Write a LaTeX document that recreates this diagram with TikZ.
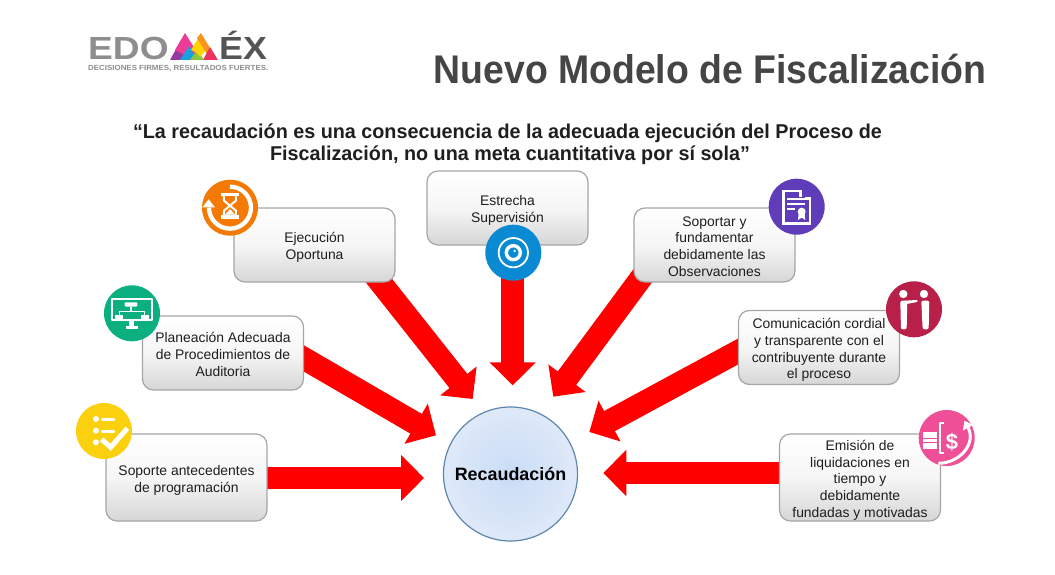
\documentclass[tikz,border=0pt]{standalone}
\usepackage{fontspec}
\setmainfont{Liberation Sans}
\usetikzlibrary{arrows.meta,backgrounds,shapes.geometric}
\definecolor{titlegray}{HTML}{454545}
\definecolor{boxline}{HTML}{A6A6A6}
\definecolor{boxlow}{HTML}{D6D6D6}
\definecolor{boxmid}{HTML}{F6F6F6}
\definecolor{txt}{HTML}{1E1E1E}
\definecolor{icorange}{HTML}{F47A05}
\definecolor{icgreen}{HTML}{0BAF80}
\definecolor{icyellow}{HTML}{FBD00F}
\definecolor{icblue}{HTML}{0A8AD2}
\definecolor{icpurple}{HTML}{5F3DB8}
\definecolor{iccrimson}{HTML}{B81F49}
\definecolor{icpink}{HTML}{EE4F96}
\definecolor{logogray}{HTML}{8E8E8E}
\definecolor{logodark}{HTML}{555555}
\definecolor{recin}{HTML}{C9DCF6}
\definecolor{recout}{HTML}{DFE9F8}
\definecolor{recline}{HTML}{5F87AE}
\newcommand{\boxtxt}[1]{\raisebox{-3pt}[\height][\depth]{\begin{tabular}{@{}c@{}}#1\end{tabular}}}
\tikzset{
  box/.style={draw=boxline,line width=1.2pt,rounded corners=11pt,minimum width=161pt,inner sep=0pt,
    shade,top color=white,bottom color=boxlow,middle color=boxmid,text=txt,
    font=\fontsize{13.9}{16.7}\selectfont},
  shortbox/.style={box,minimum height=74pt},
  tallbox/.style={box,minimum height=87pt},
  icon/.style={circle,minimum size=56pt,inner sep=0pt},
  bigarrow/.style={draw=red,line width=22.8pt,-{Triangle[length=23pt,width=45pt]}},
  ink/.style={draw=white,line cap=round,line join=round},
  zoomscale/.style={x=0.3333pt,y=-0.3333pt},
}
\begin{document}
\begin{tikzpicture}[x=1pt,y=-1pt]
\useasboundingbox (0,0) rectangle (1055,575);

% title and quote
\node[anchor=base,text=titlegray,inner sep=0pt] (title) at (710,84) {\scalebox{0.935}[1]{\fontsize{40}{42}\bfseries\selectfont Nuevo Modelo de Fiscalización}};
\node[anchor=base,text=black!88,inner sep=0pt] (q1) at (507.5,138.5) {\scalebox{0.988}[1]{\fontsize{20}{22}\bfseries\selectfont “La recaudación es una consecuencia de la adecuada ejecución del Proceso de}};
\node[anchor=base,text=black!88,inner sep=0pt] (q2) at (510,160.5) {\scalebox{0.988}[1]{\fontsize{20}{22}\bfseries\selectfont Fiscalización, no una meta cuantitativa por sí sola”}};

% logo
\node[anchor=base west,text=logogray,inner sep=0pt] (logoa) at (88,60) {\scalebox{1.16}[1]{\fontsize{32}{32}\bfseries\selectfont EDO}};
\node[anchor=base west,text=logodark,inner sep=0pt] (logob) at (219,60) {\scalebox{1.12}[1]{\fontsize{32}{32}\bfseries\selectfont ÉX}};
\node[anchor=base west,text=logogray,inner sep=0pt] (logoc) at (88,70.5) {\scalebox{1.07}[1]{\fontsize{7.4}{8}\bfseries\selectfont DECISIONES FIRMES, RESULTADOS FUERTES.}};
\fill[fill={rgb,255:red,150;green,60;blue,160}] (170,60) -- (180,42) -- (191,60) -- cycle;
\fill[fill={rgb,255:red,238;green,60;blue,150}] (175,50) -- (185,33) -- (197,52) -- (190,58) -- cycle;
\fill[fill={rgb,255:red,26;green,160;blue,220}] (180,60) -- (189,46) -- (197,60) -- cycle;
\fill[fill={rgb,255:red,140;green,198;blue,63}] (190,60) -- (197,50) -- (204,60) -- cycle;
\fill[fill={rgb,255:red,255;green,210;blue,0}] (191,50) -- (199,37) -- (206,50) -- (200,57) -- (197,53) -- cycle;
\fill[fill={rgb,255:red,247;green,147;blue,30}] (197,38) -- (201,33) -- (213,53) -- (207,54) -- cycle;
\fill[fill={rgb,255:red,238;green,50;blue,95}] (203,60) -- (210,47) -- (218,60) -- cycle;

% outcome
\node[circle,draw=recline,line width=1.2pt,minimum size=134pt,inner sep=0pt,
  shade,shading=radial,inner color=recin,outer color=recout,
  font=\fontsize{17.9}{20}\bfseries\selectfont] (rec) at (510.5,474) {Recaudación};

% boxes
\node[shortbox] (ej) at (314.5,245) {\boxtxt{Ejecución\\Oportuna}};
\node[shortbox] (pl) at (223,353) {\boxtxt{Planeación Adecuada\\de Procedimientos de\\Auditoria}};
\node[tallbox] (so) at (186.5,477.5) {\boxtxt{Soporte antecedentes\\de programación}};
\node[shortbox] (es) at (507.5,208) {\boxtxt{Estrecha\\Supervisión}};
\node[shortbox] (sp) at (714.5,245) {\boxtxt{Soportar y\\fundamentar\\debidamente las\\Observaciones}};
\node[shortbox] (co) at (819,347.5) {\boxtxt{Comunicación cordial\\y transparente con el\\contribuyente durante\\el proceso}};
\node[tallbox] (em) at (860,477.5) {\boxtxt{Emisión de\\liquidaciones en\\tiempo y\\debidamente\\fundadas y motivadas}};

% arrows, behind the boxes
\begin{scope}[on background layer]
  \fill[white] (0,0) rectangle (1055,575);
  \draw[bigarrow] ([shift={(56,25)}]ej.center) -- ([shift={(-37.8,-75)}]rec.center);
  \draw[bigarrow] ([shift={(72,0.3)}]pl.center) -- ([shift={(-74.5,-38.7)}]rec.center);
  \draw[bigarrow] ([shift={(73.5,0.5)}]so.center) -- ([shift={(-86.5,4)}]rec.center);
  \draw[bigarrow] ([shift={(5.2,32)}]es.center) -- ([shift={(2.2,-88.7)}]rec.center);
  \draw[bigarrow] ([shift={(-67.5,25)}]sp.center) -- ([shift={(42.8,-77.3)}]rec.center);
  \draw[bigarrow] ([shift={(-72,-0.8)}]co.center) -- ([shift={(78.8,-42)}]rec.center);
  \draw[bigarrow] ([shift={(-72,-4.5)}]em.center) -- ([shift={(92.8,-1)}]rec.center);
\end{scope}

% icon discs
\node[icon,fill=icorange] (i1) at (230,207.7) {};
\node[icon,fill=icgreen] (i2) at (132,313.3) {};
\node[icon,fill=icyellow] (i3) at (104,431) {};
\node[icon,fill=icblue] (i4) at (513.3,252.7) {};
\node[icon,fill=icpurple] (i5) at (796.7,206.7) {};
\node[icon,fill=iccrimson] (i6) at (914,309.3) {};
\node[icon,fill=icpink] (i7) at (946.7,438) {};

% glyphs: left column
\begin{scope}[shift={(70,170)},zoomscale]
  % hourglass + circular arrow
  \draw[white,line width=4.3pt] (480,50) arc (-90:180:63);
  \fill[white] (397,112) -- (416,88) -- (435,112) -- cycle;
  \fill[white] (454,68) rectangle (506,79);
  \fill[white] (454,135) rectangle (506,146);
  \draw[ink,line width=2pt] (462,78) -- (462,92) -- (480,107) -- (462,122) -- (462,136) -- (498,136) -- (498,122) -- (480,107) -- (498,92) -- (498,78);
  \fill[white] (466,133) -- (480,117) -- (494,133) -- cycle;
  % monitor
  \draw[ink,line width=2.3pt,line cap=butt] (127,387) rectangle (245,451);
  \fill[white] (178,451) rectangle (193,468);
  \fill[white] (167,467) rectangle (205,476);
  \fill[white,rounded corners=1pt] (164,397) rectangle (202,410);
  \draw[ink,line width=1.3pt,line cap=butt] (183,410) -- (183,424) (148,436) -- (148,424) -- (224,424) -- (224,436);
  \fill[white] (136,435) rectangle (160,446);
  \fill[white] (212,435) rectangle (236,446);
  % checklist
  \fill[white] (78,747) circle (9);
  \fill[white] (78,782) circle (9);
  \fill[white] (78,817) circle (9);
  \draw[ink,line width=2.6pt] (97,749) -- (132,749) (97,784) -- (132,784);
  \draw[ink,line width=5pt,line cap=butt,line join=miter] (95,808) -- (122,832) -- (172,775);
\end{scope}
% glyph: eye
\begin{scope}[shift={(420,165)},zoomscale]
  \draw[white,line width=1.8pt] (280,263) circle (44);
  \draw[white,line width=3.4pt] (280,263) circle (21);
  \fill[white] (284,258) circle (4);
\end{scope}
% glyphs: right column
\begin{scope}[shift={(630,170)},zoomscale]
  % document
  \draw[white,line width=2.8pt,line join=miter] (512,80) -- (512,63) -- (460,63) -- (460,160) -- (540,160) -- (540,85) -- (525,85);
  \draw[ink,line width=2pt,line cap=butt] (472,88) -- (525,88) (472,102) -- (525,102) (472,118) -- (495,118);
  \fill[white] (515,125) circle (12);
  \fill[white] (506,130) -- (504,150) -- (515,143) -- (526,150) -- (524,130) -- cycle;
  % people
  \fill[white] (820,372) circle (12.5);
  \fill[white] (882,372) circle (12.5);
  \fill[white,rounded corners=2pt] (811,392) -- (832,392) -- (830,478) -- (813,478) -- cycle;
  \fill[white,rounded corners=2pt] (874,392) -- (898,392) -- (896,478) -- (878,478) -- cycle;
  \fill[white] (825,392) -- (862,390) -- (862,396) -- (825,403) -- cycle;
  % money
  \foreach \yy in {785,796,807,818,829} {\fill[white] (880,\yy) rectangle (922,\yy+9);}
  \draw[ink,line width=2.2pt,line cap=butt] (941,760) -- (931,760) -- (931,850) -- (941,850);
  \node[text=white,font=\fontsize{22}{22}\bfseries\selectfont,inner sep=0pt] (dollar) at (966,816) {\$};
  \draw[white,line width=3pt,-{Triangle[length=8pt,width=11pt]}] (925,880) .. controls (990,880) and (1040,820) .. (1003,752);
\end{scope}
\end{tikzpicture}
\end{document}
